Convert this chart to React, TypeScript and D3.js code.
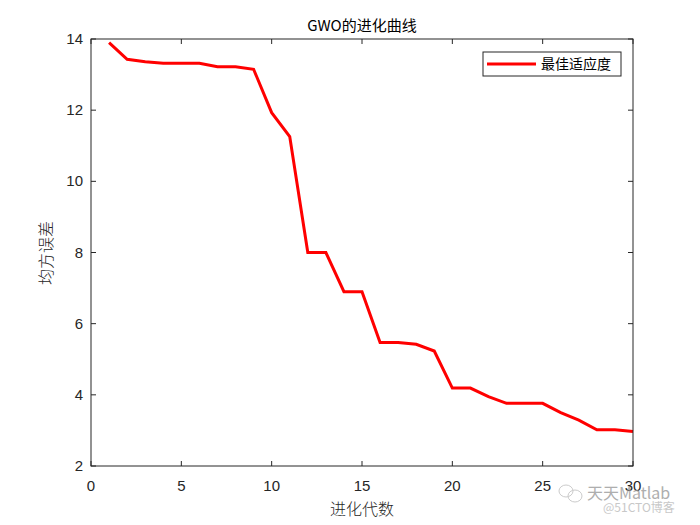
import React from "react";
import * as d3 from "d3";

const generations = [1,2,3,4,5,6,7,8,9,10,11,12,13,14,15,16,17,18,19,20,21,22,23,24,25,26,27,28,29,30];
const bestFitness = [13.9,13.43,13.36,13.32,13.32,13.32,13.22,13.22,13.15,11.93,11.26,8.0,8.0,6.9,6.9,5.47,5.47,5.42,5.23,4.19,4.19,3.95,3.76,3.76,3.76,3.5,3.29,3.02,3.02,2.97];
const xTicks = [0,5,10,15,20,25,30];
const yTicks = [2,4,6,8,10,12,14];
const titleText = "GWO的进化曲线";
const xLabel = "进化代数";
const yLabel = "均方误差";
const legendLabel = "最佳适应度";

export default function App() {
  const W = 700, H = 525;
  const left = 91, right = 633, top = 39, bottom = 466;
  const x = d3.scaleLinear().domain([0, 30]).range([left, right]);
  const y = d3.scaleLinear().domain([2, 14]).range([bottom, top]);
  const line = d3.line<number>().x((_, i) => x(generations[i])).y((d) => y(d));
  const axisColor = "#262626";
  const tickFont = "Helvetica, Arial, 'Liberation Sans', sans-serif";
  const cjk = "'Noto Sans CJK SC', sans-serif";
  const tl = 5;
  return (
    <svg width={W} height={H} style={{ position: "absolute", left: 0, top: 0, background: "#fff" }}>
      <rect x={0} y={0} width={W} height={H} fill="#fff" />
      <path d={line(bestFitness) || ""} fill="none" stroke="#ff0000" strokeWidth={3} strokeLinejoin="miter" />
      <rect x={left} y={top} width={right - left} height={bottom - top} fill="none" stroke={axisColor} strokeWidth={1} />
      {xTicks.map((t) => (
        <g key={"x" + t}>
          <line x1={x(t)} x2={x(t)} y1={bottom} y2={bottom - tl} stroke={axisColor} />
          <line x1={x(t)} x2={x(t)} y1={top} y2={top + tl} stroke={axisColor} />
          <text x={x(t)} y={491} textAnchor="middle" fontFamily={tickFont} fontSize={15} fill={axisColor}>{t}</text>
        </g>
      ))}
      {yTicks.map((t) => (
        <g key={"y" + t}>
          <line x1={left} x2={left + tl} y1={y(t)} y2={y(t)} stroke={axisColor} />
          <line x1={right} x2={right - tl} y1={y(t)} y2={y(t)} stroke={axisColor} />
          <text x={83} y={y(t) + 5} textAnchor="end" fontFamily={tickFont} fontSize={15} fill={axisColor}>{t}</text>
        </g>
      ))}
      <text x={362} y={31} textAnchor="middle" fontFamily={cjk} fontSize={15} fill="#000">{titleText}</text>
      <text x={362} y={515} textAnchor="middle" fontFamily={cjk} fontSize={16} fill={axisColor} fontWeight={300}>{xLabel}</text>
      <text transform={`translate(52,253) rotate(-90)`} textAnchor="middle" fontFamily={cjk} fontSize={16} fill={axisColor} fontWeight={300}>{yLabel}</text>
      <rect x={483} y={52} width={138} height={24} fill="#fff" stroke={axisColor} strokeWidth={1} />
      <line x1={487} x2={536} y1={64} y2={64} stroke="#ff0000" strokeWidth={3} />
      <text x={541} y={69} fontFamily={cjk} fontSize={14} fill="#000">{legendLabel}</text>
      <g opacity={0.6} fill="none" stroke="#aaa" strokeWidth={1}>
        <ellipse cx={566} cy={491} rx={7} ry={6} />
        <ellipse cx={575} cy={496} rx={7} ry={6} />
      </g>
      <text x={587} y={499} fontFamily={cjk} fontSize={16} fill="#9a9a9a" opacity={0.8}>天天Matlab</text>
      <text x={603} y={512} fontFamily={cjk} fontSize={12} fill="#bbbbbb" opacity={0.8}>@51CTO博客</text>
    </svg>
  );
}
